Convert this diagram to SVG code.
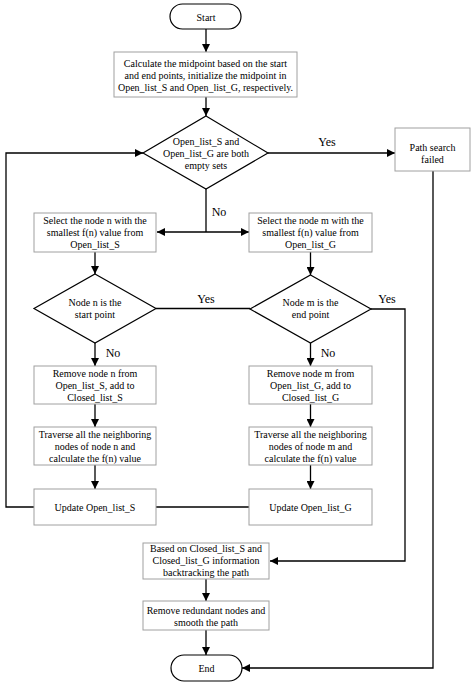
<svg xmlns="http://www.w3.org/2000/svg" width="474" height="687" viewBox="0 0 474 687">
<defs>
<marker id="ah" viewBox="0 0 10 10" refX="10" refY="5" markerWidth="8" markerHeight="8" markerUnits="userSpaceOnUse" orient="auto">
<path d="M0,0 L10,5 L0,10 Z" fill="#000"/>
</marker>
<style>
.box{fill:#fff;stroke:#a0a0a0;stroke-width:1}
.dia{fill:#fff;stroke:#000;stroke-width:1.2}
.term{fill:#fff;stroke:#000;stroke-width:1.2}
text{font-family:'Liberation Serif','DejaVu Serif',serif}
.t{font-size:10px;fill:#000;text-anchor:middle}
.lbl{font-size:12px;fill:#000;text-anchor:middle}
.c{fill:none;stroke:#000;stroke-width:1.3}
.a{marker-end:url(#ah)}
</style>
</defs>
<rect width="474" height="687" fill="#fff"/>
<g id="connectors" font-family="Liberation Serif, serif">
<line class="c a" x1="206" y1="29" x2="206" y2="52"/>
<line class="c a" x1="206" y1="97" x2="206" y2="116"/>
<line class="c a" x1="268" y1="153" x2="395" y2="153"/>
<line class="c" x1="206" y1="189" x2="206" y2="232"/>
<line class="c a" x1="206" y1="232" x2="157" y2="232"/>
<line class="c a" x1="206" y1="232" x2="249" y2="232"/>
<line class="c a" x1="95" y1="252" x2="95" y2="274"/>
<line class="c a" x1="310.5" y1="252" x2="310.5" y2="275"/>
<line class="c" x1="156" y1="308.5" x2="250" y2="308.5"/>
<polyline class="c a" points="371,309 405,309 405,561 270,561"/>
<line class="c a" x1="95" y1="343" x2="95" y2="366"/>
<line class="c a" x1="310.5" y1="343" x2="310.5" y2="366"/>
<line class="c a" x1="95" y1="404" x2="95" y2="427"/>
<line class="c a" x1="310.5" y1="404" x2="310.5" y2="427"/>
<line class="c a" x1="95" y1="465" x2="95" y2="489"/>
<line class="c a" x1="310.5" y1="465" x2="310.5" y2="489"/>
<line class="c" x1="156" y1="507" x2="249" y2="507"/>
<polyline class="c a" points="34,507 6,507 6,153 143,153"/>
<polyline class="c a" points="433,171 433,668 242,668"/>
<line class="c a" x1="206" y1="579" x2="206" y2="601"/>
<line class="c a" x1="206" y1="630" x2="206" y2="655"/>
<text class="lbl" x="327" y="146">Yes</text>
<text class="lbl" x="219" y="216">No</text>
<text class="lbl" x="206" y="303">Yes</text>
<text class="lbl" x="387" y="303">Yes</text>
<text class="lbl" x="113" y="357">No</text>
<text class="lbl" x="328" y="357">No</text>
</g>
<g id="start">
<rect class="term" x="170" y="4" width="71" height="25" rx="12.5"/>
<text class="t" x="206" y="20.5">Start</text>
</g>
<g id="init">
<rect class="box" x="114" y="52" width="183" height="45"/>
<text class="t" x="205.5" y="66.5">Calculate the midpoint based on the start</text>
<text class="t" x="205.5" y="78.5">and end points, initialize the midpoint in</text>
<text class="t" x="205.5" y="91">Open_list_S and Open_list_G, respectively.</text>
</g>
<g id="empty-check">
<polygon class="dia" points="206,116 268,153 206,189 143,153"/>
<text class="t" x="206" y="144.5">Open_list_S and</text>
<text class="t" x="206" y="156.5">Open_list_G are both</text>
<text class="t" x="206" y="168.5">empty sets</text>
</g>
<g id="failed">
<rect class="box" x="395" y="128" width="75" height="43"/>
<text class="t" x="432.5" y="150.5">Path search</text>
<text class="t" x="432.5" y="162.5">failed</text>
</g>
<g id="select-s">
<rect class="box" x="34" y="213" width="122" height="39"/>
<text class="t" x="95" y="223.5">Select the node n with the</text>
<text class="t" x="95" y="235.5">smallest f(n) value from</text>
<text class="t" x="95" y="247.5">Open_list_S</text>
</g>
<g id="select-g">
<rect class="box" x="249" y="213" width="123" height="39"/>
<text class="t" x="310.5" y="223.5">Select the node m with the</text>
<text class="t" x="310.5" y="235.5">smallest f(n) value from</text>
<text class="t" x="310.5" y="247.5">Open_list_G</text>
</g>
<g id="is-start">
<polygon class="dia" points="95,274 156,308.5 95,343 34,308.5"/>
<text class="t" x="95" y="305.5">Node n is the</text>
<text class="t" x="95" y="317.5">start point</text>
</g>
<g id="is-end">
<polygon class="dia" points="310.5,275 371,309 310.5,343 250,309"/>
<text class="t" x="310.5" y="306">Node m is the</text>
<text class="t" x="310.5" y="318">end point</text>
</g>
<g id="remove-s">
<rect class="box" x="34" y="366" width="122" height="38"/>
<text class="t" x="95" y="376.5">Remove node n from</text>
<text class="t" x="95" y="388.5">Open_list_S, add to</text>
<text class="t" x="95" y="400.5">Closed_list_S</text>
</g>
<g id="remove-g">
<rect class="box" x="249" y="366" width="123" height="38"/>
<text class="t" x="310.5" y="376.5">Remove node m from</text>
<text class="t" x="310.5" y="388.5">Open_list_G, add to</text>
<text class="t" x="310.5" y="400.5">Closed_list_G</text>
</g>
<g id="traverse-s">
<rect class="box" x="34" y="427" width="122" height="38"/>
<text class="t" x="95" y="437.5">Traverse all the neighboring</text>
<text class="t" x="95" y="449.5">nodes of node n and</text>
<text class="t" x="95" y="461.5">calculate the f(n) value</text>
</g>
<g id="traverse-g">
<rect class="box" x="249" y="427" width="123" height="38"/>
<text class="t" x="310.5" y="437.5">Traverse all the neighboring</text>
<text class="t" x="310.5" y="449.5">nodes of node m and</text>
<text class="t" x="310.5" y="461.5">calculate the f(n) value</text>
</g>
<g id="update-s">
<rect class="box" x="34" y="489" width="122" height="36"/>
<text class="t" x="95" y="510.5">Update Open_list_S</text>
</g>
<g id="update-g">
<rect class="box" x="249" y="489" width="123" height="36"/>
<text class="t" x="310.5" y="510.5">Update Open_list_G</text>
</g>
<g id="backtrack">
<rect class="box" x="143" y="543" width="126" height="36"/>
<text class="t" x="206" y="551.5">Based on Closed_list_S and</text>
<text class="t" x="206" y="564">Closed_list_G information</text>
<text class="t" x="206" y="576">backtracking the path</text>
</g>
<g id="smooth">
<rect class="box" x="143" y="601" width="126" height="29"/>
<text class="t" x="206" y="613.5">Remove redundant nodes and</text>
<text class="t" x="206" y="625.5">smooth the path</text>
</g>
<g id="end">
<rect class="term" x="171" y="655" width="71" height="26" rx="13"/>
<text class="t" x="206.5" y="671.5">End</text>
</g>
</svg>
